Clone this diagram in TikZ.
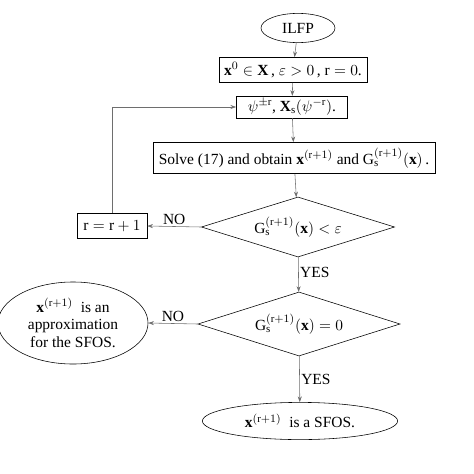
\documentclass[tikz,border=0pt]{standalone}
\usepackage{fontspec}
\setmainfont{Liberation Serif}
\usepackage{tikz}
\usetikzlibrary{arrows.meta,positioning,shapes.geometric}
\definecolor{flowline}{RGB}{110,110,110}

\begin{document}
\begin{tikzpicture}[
  x=0.025cm, y=-0.025cm,
  font=\fontsize{11}{12.5}\selectfont,
  terminal/.style={draw, thin, ellipse, inner sep=1pt, align=center},
  process/.style={draw, thin, inner sep=2pt, minimum height=0.6cm},
  decision/.style={draw, thin, diamond, aspect=3.2, inner sep=0pt},
  flow/.style={draw=flowline, thin, -{Stealth[length=1.4mm,width=1mm]}},
  tag/.style={inner sep=1pt}
]
\useasboundingbox (0,0) rectangle (474,474);

\node[terminal, minimum width=1.85cm, minimum height=0.73cm] (start) at (298,28) {ILFP};
\node[process, minimum width=3.7cm, minimum height=0.63cm] (init) at (293,70) {$\mathbf{x}^{0}\in\mathbf{X}$\,,\ $\varepsilon>0$\,,\ $\mathrm{r}=0$.};
\node[process, minimum width=2.78cm, minimum height=0.53cm] (psi) at (292,107) {$\psi^{\pm\mathrm{r}}$,\ $\mathbf{X}_{\mathrm{s}}\bigl(\psi^{-\mathrm{r}}\bigr)$.};
\node[process, minimum width=7.05cm, minimum height=0.78cm] (solve) at (294,158) {Solve (17) and obtain $\mathbf{x}^{(\mathrm{r}+1)}$ and $\mathrm{G}_{\mathrm{s}}^{(\mathrm{r}+1)}(\mathbf{x})$\,.};
\node[decision, minimum width=4.83cm, minimum height=1.5cm] (test1) at (298,227) {$\mathrm{G}_{\mathrm{s}}^{(\mathrm{r}+1)}(\mathbf{x})<\varepsilon$};
\node[process, minimum width=1.75cm, minimum height=0.63cm] (incr) at (112,226) {$\mathrm{r}=\mathrm{r}+1$};
\node[decision, minimum width=5.05cm, minimum height=1.6cm] (test2) at (299,324) {$\mathrm{G}_{\mathrm{s}}^{(\mathrm{r}+1)}(\mathbf{x})=0$};
\node[terminal, minimum width=3.75cm, minimum height=2.05cm] (approx) at (73,323) {$\mathbf{x}^{(\mathrm{r}+1)}$\ \ is an\\approximation\\for the SFOS.};
\node[terminal, minimum width=4.88cm, minimum height=0.93cm] (sfos) at (300,421) {$\mathbf{x}^{(\mathrm{r}+1)}$\ \ is a SFOS.};
\coordinate (loop) at (incr.north |- psi.west);

\draw[flow] (start) -- (init);
\draw[flow] (init) -- (psi);
\draw[flow] (psi) -- (solve);
\draw[flow] (solve) -- (test1);
\draw[flow] (test1) -- node[tag, right, pos=0.45]{YES} (test2);
\draw[flow] (test2) -- node[tag, right, pos=0.5]{YES} (sfos);
\draw[flow] (test1.west) -- node[tag, above, pos=0.5]{NO} (incr.east);
\draw[flow] (incr.north) -- (loop) -- (psi.west);
\draw[flow] (test2.west) -- node[tag, above, pos=0.5]{NO} (approx.east);
\end{tikzpicture}
\end{document}
